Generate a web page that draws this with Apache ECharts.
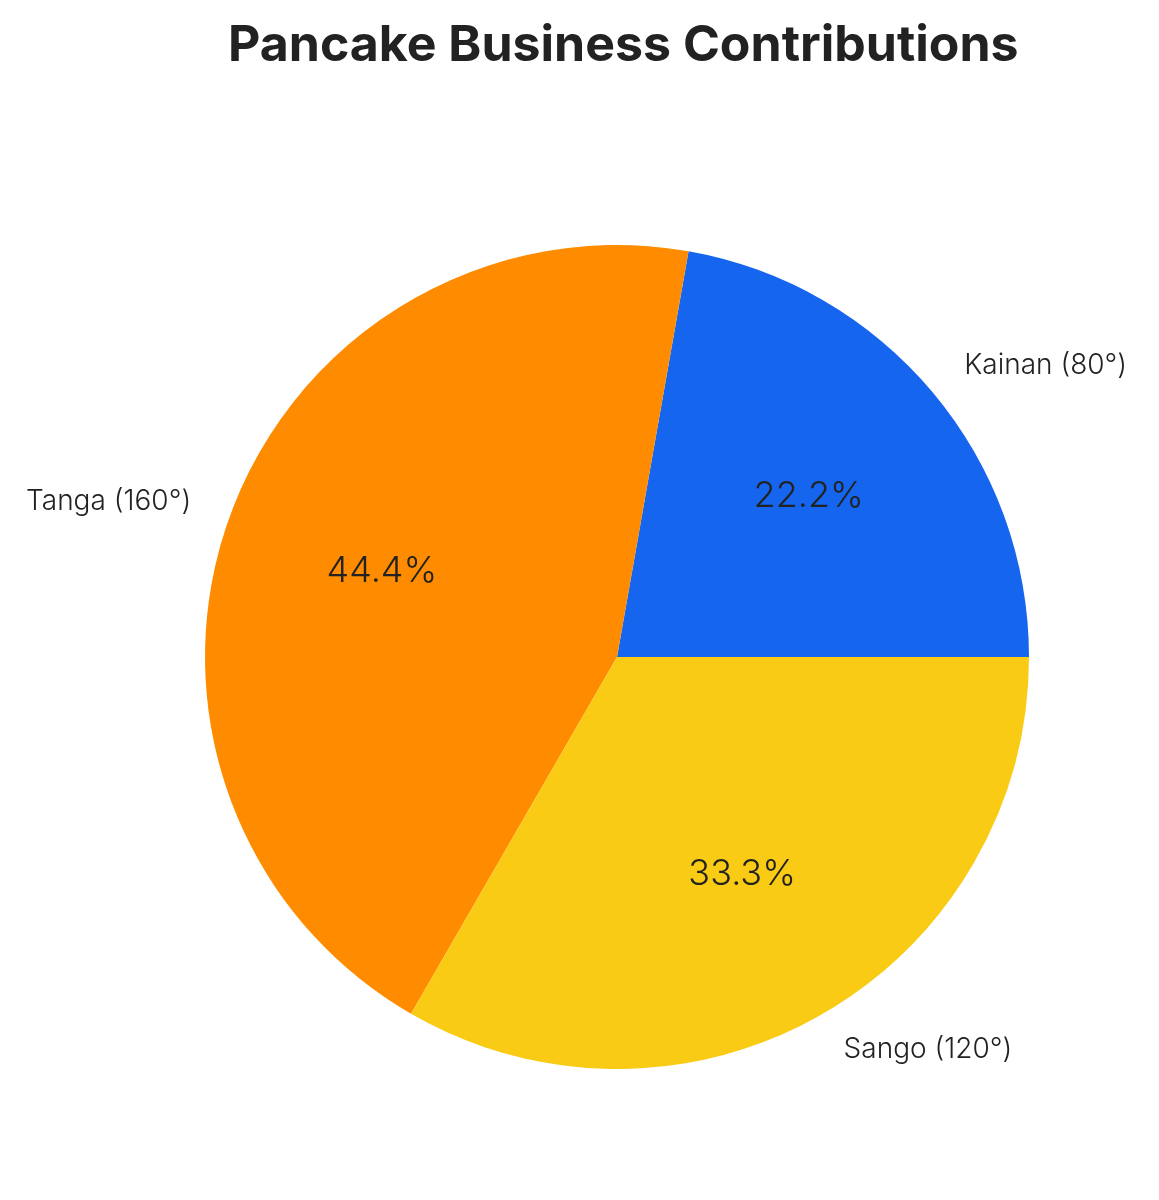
<!DOCTYPE html>
<html>
<head>
<meta charset="utf-8">
<script src="https://cdn.jsdelivr.net/npm/echarts@6/dist/echarts.min.js"></script>
<style>html,body{margin:0;padding:0;background:#fff}#c{width:1159px;height:1200px}</style>
</head>
<body>
<div id="c"></div>
<script>
const titleText = 'Pancake Business Contributions';
const categories = ['Kainan', 'Tanga', 'Sango'];
const degrees = [80, 160, 120];
const colors = ['#1565EE', '#FF8C00', '#F9CB15'];

const total = degrees.reduce((a, b) => a + b, 0);
const data = categories.map((c, i) => ({ name: c, value: degrees[i], itemStyle: { color: colors[i] } }));
const R = 412;
const chart = echarts.init(document.getElementById('c'));
chart.setOption({
  backgroundColor: '#fff',
  animation: false,
  title: {
    text: titleText, left: 223, top: 16,
    textStyle: { fontFamily: 'Inter', fontWeight: 'bold', fontSize: 50, color: '#222' }
  },
  series: [
    {
      type: 'pie', center: [617, 657], radius: [0, R],
      startAngle: 0, clockwise: false, avoidLabelOverlap: false,
      data: data,
      itemStyle: { borderWidth: 0 },
      label: {
        show: true, position: 'outside', distanceToLabelLine: 0,
        formatter: p => p.name + ' (' + p.value + '°)',
        fontFamily: 'Inter', fontWeight: 300, fontSize: 28, color: '#222'
      },
      labelLine: { show: false, length: R * 0.1, length2: 0 },
      emphasis: { disabled: true }
    },
    {
      type: 'pie', center: [617, 657], radius: [R * 0.2, R],
      startAngle: 0, clockwise: false, avoidLabelOverlap: false, silent: true,
      data: data.map(d => ({ name: d.name, value: d.value, itemStyle: { color: 'rgba(0,0,0,0)' } })),
      label: {
        show: true, position: 'inside',
        formatter: p => (p.value / total * 100).toFixed(1) + '%',
        fontFamily: 'Inter', fontWeight: 300, fontSize: 36, color: '#222'
      },
      labelLine: { show: false },
      emphasis: { disabled: true }
    }
  ]
});
</script>
</body>
</html>
